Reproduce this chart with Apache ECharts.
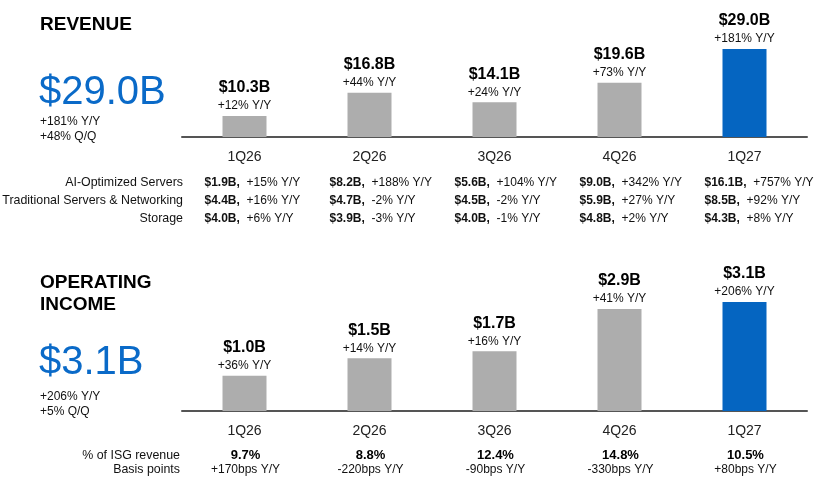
<!DOCTYPE html>
<html>
<head>
<meta charset="utf-8">
<script src="https://cdn.jsdelivr.net/npm/echarts@6/dist/echarts.min.js"></script>
<style>
  html, body { margin: 0; padding: 0; background: #fff; }
  #main { width: 817px; height: 495px; }
</style>
</head>
<body>
<div id="main"></div>
<script>
// data
var quarters = ["1Q26", "2Q26", "3Q26", "4Q26", "1Q27"];
var revenue = [10.3, 16.8, 14.1, 19.6, 29.0];
var revenueYoY = ["+12%", "+44%", "+24%", "+73%", "+181%"];
var opIncome = [1.0, 1.5, 1.7, 2.9, 3.1];
var opIncomeYoY = ["+36%", "+14%", "+16%", "+41%", "+206%"];

var segNames = ["AI-Optimized Servers", "Traditional Servers & Networking", "Storage"];
var aiServers = [1.9, 8.2, 5.6, 9.0, 16.1];
var aiServersYoY = ["+15%", "+188%", "+104%", "+342%", "+757%"];
var tradServers = [4.4, 4.7, 4.5, 5.9, 8.5];
var tradServersYoY = ["+16%", "-2%", "-2%", "+27%", "+92%"];
var storage = [4.0, 3.9, 4.0, 4.8, 4.3];
var storageYoY = ["+6%", "-3%", "-1%", "+2%", "+8%"];

var isgPct = [9.7, 8.8, 12.4, 14.8, 10.5];
var isgBps = ["+170", "-220", "-90", "-330", "+80"];

var FONT = "Liberation Sans, Arial, sans-serif";
var GRAY = "#adadad";
var BLUE = "#0565c1";
var TEXT_BLUE = "#0a6ac8";

function barData(values) {
    return values.map(function (v, i) {
        return { value: v, itemStyle: { color: i === values.length - 1 ? BLUE : GRAY } };
    });
}

function barLabel(yoy) {
    return {
        show: true,
        position: "top",
        distance: 2,
        formatter: function (p) {
            return "{v|$" + p.value.toFixed(1) + "B}\n{y|" + yoy[p.dataIndex] + " Y/Y}";
        },
        rich: {
            v: { fontFamily: FONT, fontSize: 16, fontWeight: "bold", color: "#000", lineHeight: 20 },
            y: { fontFamily: FONT, fontSize: 12, color: "#111", lineHeight: 16 }
        }
    };
}

function xAxisFor(idx) {
    return {
        type: "category",
        gridIndex: idx,
        data: quarters,
        axisTick: { show: false },
        axisLine: { lineStyle: { color: "#555", width: 2 } },
        axisLabel: { margin: 13, fontFamily: FONT, fontSize: 14, color: "#222" }
    };
}

var chart = echarts.init(document.getElementById("main"));
var option = {
    animation: false,
    backgroundColor: "#fff",
    grid: [
        { left: 182, width: 625, top: 49, height: 88 },
        { left: 182, width: 625, top: 302, height: 109 }
    ],
    xAxis: [xAxisFor(0), xAxisFor(1)],
    yAxis: [
        { type: "value", gridIndex: 0, min: 4.4, max: 29.0, show: false, splitLine: { show: false } },
        { type: "value", gridIndex: 1, min: 0, max: 3.1, show: false, splitLine: { show: false } }
    ],
    series: [
        {
            name: "Revenue",
            type: "bar",
            xAxisIndex: 0,
            yAxisIndex: 0,
            barWidth: 44,
            data: barData(revenue),
            label: barLabel(revenueYoY)
        },
        {
            name: "Operating income",
            type: "bar",
            xAxisIndex: 1,
            yAxisIndex: 1,
            barWidth: 44,
            data: barData(opIncome),
            label: barLabel(opIncomeYoY)
        }
    ]
};
chart.setOption(option);

// side panel + tables
function txt(x, y, text, size, opts) {
    opts = opts || {};
    return {
        type: "text",
        x: x,
        y: y,
        silent: true,
        style: {
            text: text,
            fontFamily: FONT,
            fontSize: size,
            fontWeight: opts.bold ? "bold" : "normal",
            fill: opts.color || "#111",
            align: opts.align || "left",
            verticalAlign: "middle",
            rich: opts.rich
        }
    };
}

var g = [];
g.push(txt(40, 25, "REVENUE", 19, { bold: true, color: "#000" }));
g.push(txt(39, 93, "$29.0B", 40, { color: TEXT_BLUE }));
g.push(txt(40, 122, "+181% Y/Y", 12));
g.push(txt(40, 137, "+48% Q/Q", 12));

g.push(txt(40, 283, "OPERATING", 19, { bold: true, color: "#000" }));
g.push(txt(40, 305, "INCOME", 19, { bold: true, color: "#000" }));
g.push(txt(39, 363, "$3.1B", 40, { color: TEXT_BLUE }));
g.push(txt(40, 397, "+206% Y/Y", 12));
g.push(txt(40, 412, "+5% Q/Q", 12));

var centers = quarters.map(function (q) {
    return chart.convertToPixel({ xAxisIndex: 0 }, q);
});

var segRows = [
    { y: 183, vals: aiServers, yoy: aiServersYoY },
    { y: 201, vals: tradServers, yoy: tradServersYoY },
    { y: 219, vals: storage, yoy: storageYoY }
];
var boldRich = { b: { fontFamily: FONT, fontSize: 12, fontWeight: "bold", fill: "#111" } };
segRows.forEach(function (row, r) {
    g.push(txt(183, row.y, segNames[r], 12.4, { align: "right" }));
    centers.forEach(function (cx, i) {
        g.push(txt(cx - 40, row.y, "{b|$" + row.vals[i].toFixed(1) + "B,}  " + row.yoy[i] + " Y/Y", 12, { rich: boldRich }));
    });
});

g.push(txt(180, 456, "% of ISG revenue", 12.4, { align: "right" }));
g.push(txt(180, 470, "Basis points", 12.4, { align: "right" }));
centers.forEach(function (cx, i) {
    g.push(txt(cx + 1, 455, isgPct[i].toFixed(1) + "%", 13, { bold: true, align: "center", color: "#000" }));
    g.push(txt(cx + 1, 470, isgBps[i] + "bps Y/Y", 12, { align: "center" }));
});

chart.setOption({ graphic: g });
</script>
</body>
</html>
